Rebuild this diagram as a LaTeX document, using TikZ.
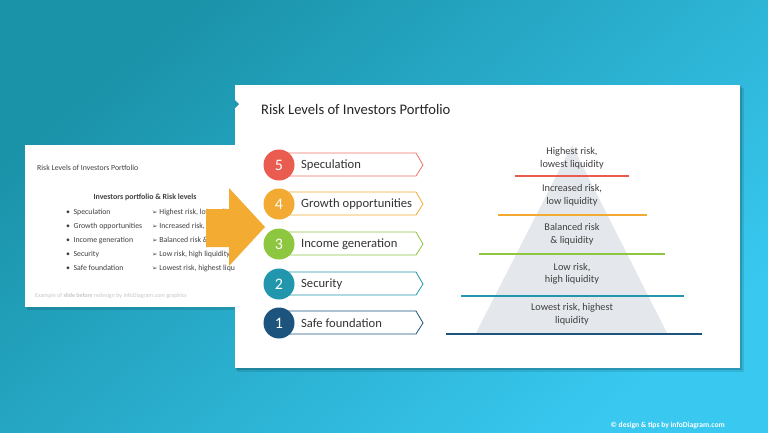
\documentclass[tikz,border=0pt]{standalone}
\usepackage{fontspec}
\setmainfont{Carlito}
\newfontfamily\dejavu{DejaVu Sans}
\definecolor{bgdark}{RGB}{26,146,168}
\definecolor{bglight}{RGB}{56,200,240}
\definecolor{arroworange}{RGB}{243,171,50}
\definecolor{lvfive}{RGB}{234,92,80}
\definecolor{lvfour}{RGB}{242,170,50}
\definecolor{lvthree}{RGB}{141,198,63}
\definecolor{lvtwo}{RGB}{33,150,172}
\definecolor{lvone}{RGB}{28,84,126}
\definecolor{pyrgrey}{RGB}{228,231,235}

\begin{document}
\begin{tikzpicture}[x=1pt,y=-1pt]
\tikzset{oldtxt/.style={anchor=west,inner sep=0pt,font=\fontsize{7.8}{9}\selectfont,text=black!75},
  num/.style={circle,fill=#1,minimum size=31pt,inner sep=0pt,text=white,font=\fontsize{16}{16}\selectfont},
  lvl/.style={draw=#1,line width=0.8pt,fill=white},
  lbl/.style={anchor=west,inner sep=0pt,font=\fontsize{12.6}{14}\selectfont,text=black!80},
  pyr/.style={align=center,inner sep=0pt,font=\fontsize{10.3}{12.5}\selectfont,text=black!75},
  bar/.style={draw=#1,line width=1.4pt}}

\useasboundingbox (0,0) rectangle (768,432);
\shade[top color=bgdark,bottom color=bglight,shading angle=40] (0,0) rectangle (768,432);

\fill[black,opacity=.12] (27,148) rectangle (252,310);
\fill[white] (25,145) rectangle (250,307);
\node[oldtxt] (oldtitle) at (37,168) {Risk Levels of Investors Portfolio};
\node[oldtxt,anchor=center,font=\fontsize{7.9}{9}\bfseries] (oldhead) at (145,197) {Investors portfolio \& Risk levels};
\node[oldtxt] (old5) at (66,212) {\textbullet\ \ Speculation};
\node[oldtxt] (old4) at (66,226) {\textbullet\ \ Growth opportunities};
\node[oldtxt] (old3) at (66,240) {\textbullet\ \ Income generation};
\node[oldtxt] (old2) at (66,254) {\textbullet\ \ Security};
\node[oldtxt] (old1) at (66,268) {\textbullet\ \ Safe foundation};
\node[oldtxt] (oldr5) at (152,212) {{\dejavu\fontsize{6.5}{7}\selectfont ➢}\ Highest risk, lowest liquidity};
\node[oldtxt] (oldr4) at (152,226) {{\dejavu\fontsize{6.5}{7}\selectfont ➢}\ Increased risk, low liquidity};
\node[oldtxt] (oldr3) at (152,240) {{\dejavu\fontsize{6.5}{7}\selectfont ➢}\ Balanced risk \& liquidity};
\node[oldtxt] (oldr2) at (152,254) {{\dejavu\fontsize{6.5}{7}\selectfont ➢}\ Low risk, high liquidity};
\node[oldtxt] (oldr1) at (152,268) {{\dejavu\fontsize{6.5}{7}\selectfont ➢}\ Lowest risk, highest liquidity};
\node[oldtxt,font=\fontsize{6}{7}\selectfont,text=black!22] (oldfoot) at (35,296) {Example of \textbf{slide before} redesign by infoDiagram.com graphics};

\fill[black,opacity=.10] (237,88) rectangle (744,372);
\fill[black,opacity=.15] (236,86) rectangle (742,370);
\fill[white] (235,85) rectangle (740,368);
\fill[lvtwo] (235,100) -- (239,104) -- (235,108) -- cycle;
\node[anchor=west,inner sep=0pt,font=\fontsize{14.6}{16}\selectfont,text=black!85] (title) at (261,109) {Risk Levels of Investors Portfolio};

\draw[lvl=lvfive!85] (285,153) -- (416,153) -- (423,165) -- (416,176) -- (285,176) -- cycle;
\draw[lvl=lvfour] (285,192) -- (416,192) -- (423,204) -- (416,215) -- (285,215) -- cycle;
\draw[lvl=lvthree] (285,232) -- (416,232) -- (423,244) -- (416,255) -- (285,255) -- cycle;
\draw[lvl=lvtwo] (285,272) -- (416,272) -- (423,284) -- (416,295) -- (285,295) -- cycle;
\draw[lvl=lvone] (285,311) -- (416,311) -- (423,323) -- (416,334) -- (285,334) -- cycle;

\node[num=lvfive] (n5) at (279,165) {5};
\node[num=lvfour] (n4) at (279,204) {4};
\node[num=lvthree] (n3) at (279,244) {3};
\node[num=lvtwo] (n2) at (279,284) {2};
\node[num=lvone] (n1) at (279,323) {1};
\node[lbl] (l5) at (301,165) {Speculation};
\node[lbl] (l4) at (301,204) {Growth opportunities};
\node[lbl] (l3) at (301,244) {Income generation};
\node[lbl] (l2) at (301,284) {Security};
\node[lbl] (l1) at (301,323) {Safe foundation};

\fill[pyrgrey] (476,333) -- (572,145) -- (667,333) -- cycle;
\draw[bar=lvfive] (515,176) -- (629,176);
\draw[bar=lvfour] (498,215) -- (647,215);
\draw[bar=lvthree] (479,254) -- (665,254);
\draw[bar=lvtwo] (461,296) -- (684,296);
\draw[bar=lvone] (446,334) -- (702,334);
\node[pyr] (p5) at (572,158) {Highest risk,\\lowest liquidity};
\node[pyr] (p4) at (572,195) {Increased risk,\\low liquidity};
\node[pyr] (p3) at (572,234) {Balanced risk\\\& liquidity};
\node[pyr] (p2) at (572,274) {Low risk,\\high liquidity};
\node[pyr] (p1) at (572,314) {Lowest risk, highest\\liquidity};

\fill[arroworange] (206,209) -- (229,209) -- (229,188) -- (265,227) -- (229,266) -- (229,247) -- (206,247) -- cycle;

\node[anchor=east,inner sep=0pt,text=white,font=\fontsize{7.6}{9}\bfseries] (credit) at (725,425) {© design \& tips by infoDiagram.com};
\end{tikzpicture}
\end{document}
